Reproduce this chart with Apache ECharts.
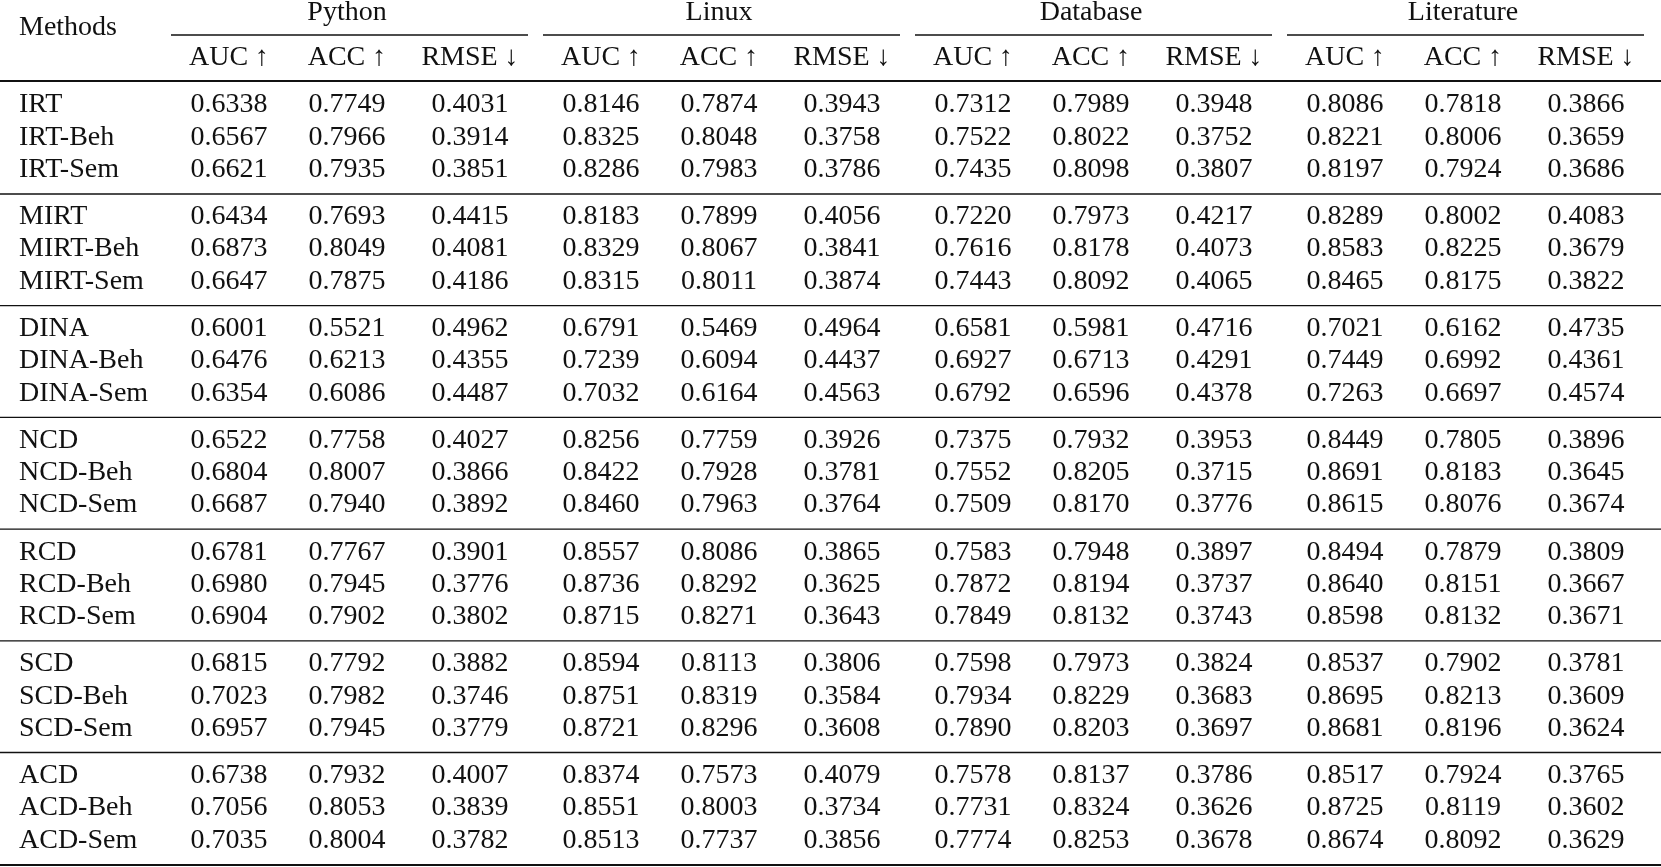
<!DOCTYPE html>
<html><head><meta charset="utf-8">
<script src="https://cdn.jsdelivr.net/npm/echarts@6/dist/echarts.min.js"></script>
<style>html,body{margin:0;background:#fff}#c{width:1661px;height:867px}</style>
</head><body><div id="c"></div>
<script>
var datasets = ['Python', 'Linux', 'Database', 'Literature'];
var metrics = ['AUC ↑', 'ACC ↑', 'RMSE ↓'];
var methods = ['IRT', 'MIRT', 'DINA', 'NCD', 'RCD', 'SCD', 'ACD'];
var variants = ['', '-Beh', '-Sem'];
var values = [
  ['0.6338','0.7749','0.4031','0.8146','0.7874','0.3943','0.7312','0.7989','0.3948','0.8086','0.7818','0.3866'],
  ['0.6567','0.7966','0.3914','0.8325','0.8048','0.3758','0.7522','0.8022','0.3752','0.8221','0.8006','0.3659'],
  ['0.6621','0.7935','0.3851','0.8286','0.7983','0.3786','0.7435','0.8098','0.3807','0.8197','0.7924','0.3686'],
  ['0.6434','0.7693','0.4415','0.8183','0.7899','0.4056','0.7220','0.7973','0.4217','0.8289','0.8002','0.4083'],
  ['0.6873','0.8049','0.4081','0.8329','0.8067','0.3841','0.7616','0.8178','0.4073','0.8583','0.8225','0.3679'],
  ['0.6647','0.7875','0.4186','0.8315','0.8011','0.3874','0.7443','0.8092','0.4065','0.8465','0.8175','0.3822'],
  ['0.6001','0.5521','0.4962','0.6791','0.5469','0.4964','0.6581','0.5981','0.4716','0.7021','0.6162','0.4735'],
  ['0.6476','0.6213','0.4355','0.7239','0.6094','0.4437','0.6927','0.6713','0.4291','0.7449','0.6992','0.4361'],
  ['0.6354','0.6086','0.4487','0.7032','0.6164','0.4563','0.6792','0.6596','0.4378','0.7263','0.6697','0.4574'],
  ['0.6522','0.7758','0.4027','0.8256','0.7759','0.3926','0.7375','0.7932','0.3953','0.8449','0.7805','0.3896'],
  ['0.6804','0.8007','0.3866','0.8422','0.7928','0.3781','0.7552','0.8205','0.3715','0.8691','0.8183','0.3645'],
  ['0.6687','0.7940','0.3892','0.8460','0.7963','0.3764','0.7509','0.8170','0.3776','0.8615','0.8076','0.3674'],
  ['0.6781','0.7767','0.3901','0.8557','0.8086','0.3865','0.7583','0.7948','0.3897','0.8494','0.7879','0.3809'],
  ['0.6980','0.7945','0.3776','0.8736','0.8292','0.3625','0.7872','0.8194','0.3737','0.8640','0.8151','0.3667'],
  ['0.6904','0.7902','0.3802','0.8715','0.8271','0.3643','0.7849','0.8132','0.3743','0.8598','0.8132','0.3671'],
  ['0.6815','0.7792','0.3882','0.8594','0.8113','0.3806','0.7598','0.7973','0.3824','0.8537','0.7902','0.3781'],
  ['0.7023','0.7982','0.3746','0.8751','0.8319','0.3584','0.7934','0.8229','0.3683','0.8695','0.8213','0.3609'],
  ['0.6957','0.7945','0.3779','0.8721','0.8296','0.3608','0.7890','0.8203','0.3697','0.8681','0.8196','0.3624'],
  ['0.6738','0.7932','0.4007','0.8374','0.7573','0.4079','0.7578','0.8137','0.3786','0.8517','0.7924','0.3765'],
  ['0.7056','0.8053','0.3839','0.8551','0.8003','0.3734','0.7731','0.8324','0.3626','0.8725','0.8119','0.3602'],
  ['0.7035','0.8004','0.3782','0.8513','0.7737','0.3856','0.7774','0.8253','0.3678','0.8674','0.8092','0.3629']
];

// layout (pixel units on hidden value axes)
var colX = [229, 347, 470];
var groupStep = 372;
var font = '28px "Liberation Serif", "DejaVu Serif", serif';

var texts = [];   // [x, y, text, align]
var rules = [];   // [x1, x2, y, width]
texts.push([19, 28, 'Methods', 'left']);
datasets.forEach(function (d, g) {
  var cx = colX[1] + g * groupStep;
  texts.push([cx, 13, d, 'center']);
  rules.push([171 + g * groupStep, 528 + g * groupStep, 35, 1.3]);
  metrics.forEach(function (m, k) {
    texts.push([colX[k] + g * groupStep, 58, m, 'center']);
  });
});
rules.push([0, 1661, 81, 2]);
values.forEach(function (row, r) {
  var g = Math.floor(r / 3), i = r % 3;
  var y = 105 + g * 111.8 + i * 32.3;
  texts.push([19, y, methods[g] + variants[i], 'left']);
  row.forEach(function (v, c) {
    texts.push([colX[c % 3] + Math.floor(c / 3) * groupStep, y, v, 'center']);
  });
});
methods.forEach(function (m, g) {
  if (g < methods.length - 1) rules.push([0, 1661, 194 + g * 111.7, 1.3]);
});
rules.push([0, 1661, 865, 2]);

var chart = echarts.init(document.getElementById('c'), null, { renderer: 'canvas' });
chart.setOption({
  animation: false,
  grid: { left: 0, right: 0, top: 0, bottom: 0 },
  xAxis: { type: 'value', min: 0, max: 1661, show: false },
  yAxis: { type: 'value', min: 0, max: 867, inverse: true, show: false },
  series: [{
    type: 'custom',
    data: texts,
    renderItem: function (params, api) {
      var p = api.coord([api.value(0), api.value(1)]);
      var t = texts[params.dataIndex];
      return {
        type: 'text',
        x: p[0], y: p[1],
        style: { text: t[2], font: font, fill: '#111', align: t[3], verticalAlign: 'middle' }
      };
    }
  }, {
    type: 'custom',
    data: rules,
    renderItem: function (params, api) {
      var a = api.coord([api.value(0), api.value(2)]);
      var b = api.coord([api.value(1), api.value(2)]);
      return {
        type: 'line',
        shape: { x1: a[0], y1: a[1], x2: b[0], y2: b[1] },
        style: { stroke: '#111', lineWidth: api.value(3) }
      };
    }
  }]
});
</script></body></html>
